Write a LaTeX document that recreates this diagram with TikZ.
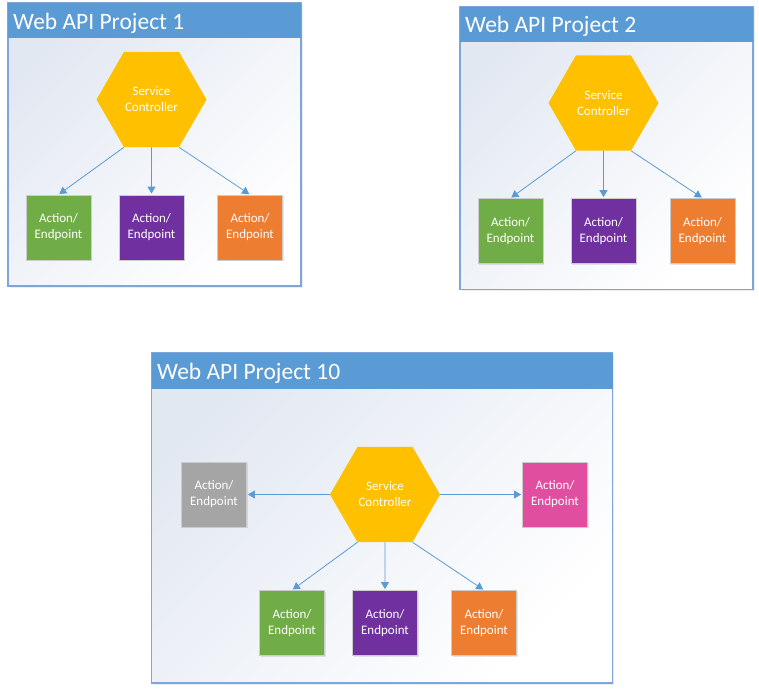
\documentclass[tikz,border=0pt]{standalone}
\usepackage{fontspec}
\setmainfont{Carlito}
\usetikzlibrary{shapes.geometric,arrows.meta,positioning,shadows}

\definecolor{titleblue}{HTML}{5B9BD5}
\definecolor{frameblue}{HTML}{7FA6D8}
\definecolor{bgblue}{HTML}{E2E8F2}
\definecolor{hexyellow}{HTML}{FFC000}
\definecolor{epgreen}{HTML}{70AD47}
\definecolor{eppurple}{HTML}{7030A0}
\definecolor{eporange}{HTML}{ED7D31}
\definecolor{epgray}{HTML}{A5A5A5}
\definecolor{eppink}{HTML}{E04F9F}

\tikzset{
	panel/.style={draw=frameblue,line width=1.2pt,top color=bgblue,bottom color=white,shading angle=45,
		drop shadow={opacity=0.15,shadow xshift=1.5pt,shadow yshift=-1.5pt}},
	titlebar/.style={fill=titleblue,draw=none},
	titletext/.style={anchor=base west,text=white,inner sep=0pt,font=\fontsize{23.5}{28}\selectfont},
	service/.style={regular polygon,regular polygon sides=6,minimum size=110pt,inner sep=0pt,
		fill=hexyellow,text=white,align=center,font=\fontsize{13}{16}\selectfont},
	endpoint/.style={minimum size=65pt,inner sep=0pt,draw=black!20,line width=0.8pt,text=white,
		align=center,font=\fontsize{13}{16}\selectfont,
		drop shadow={opacity=0.2,shadow xshift=1pt,shadow yshift=-1pt}},
	call/.style={draw=titleblue,line width=0.8pt,-{Triangle[width=8pt,length=7pt]},shorten >=1pt}
}

\begin{document}
\begin{tikzpicture}[x=1pt,y=-1pt]
	\useasboundingbox[fill=white] (0,0) rectangle (759,691);

	% project 1
	\draw[panel] (8,3) rectangle (301,286);
	\fill[titlebar] (8,3) rectangle (301,38);
	\node[titletext] (title1) at (13,29) {Web API Project 1};
	\node[service] (sc1) at (151.5,99.5) {Service\\Controller};
	\node[endpoint,fill=epgreen] (ep1a) at (58.5,227.5) {Action/\\Endpoint};
	\node[endpoint,fill=eppurple] (ep1b) at (151.5,227.5) {Action/\\Endpoint};
	\node[endpoint,fill=eporange] (ep1c) at (250,227.5) {Action/\\Endpoint};
	\draw[call] (sc1.corner 4) -- (ep1a.north);
	\draw[call] (sc1.south) -- (ep1b.north);
	\draw[call] (sc1.corner 5) -- (ep1c.north);

	% project 2
	\draw[panel] (460,6.5) rectangle (753,289.5);
	\fill[titlebar] (460,6.5) rectangle (753,41.5);
	\node[titletext] (title2) at (465,32.5) {Web API Project 2};
	\node[service] (sc2) at (603.5,103) {Service\\Controller};
	\node[endpoint,fill=epgreen] (ep2a) at (510.5,231) {Action/\\Endpoint};
	\node[endpoint,fill=eppurple] (ep2b) at (603.5,231) {Action/\\Endpoint};
	\node[endpoint,fill=eporange] (ep2c) at (702.5,231) {Action/\\Endpoint};
	\draw[call] (sc2.corner 4) -- (ep2a.north);
	\draw[call] (sc2.south) -- (ep2b.north);
	\draw[call] (sc2.corner 5) -- (ep2c.north);

	% project 10
	\draw[panel] (151.5,353) rectangle (612.5,683);
	\fill[titlebar] (151.5,353) rectangle (612.5,389);
	\node[titletext] (title10) at (157,379) {Web API Project 10};
	\node[service] (sc10) at (385,494.5) {Service\\Controller};
	\node[endpoint,fill=epgray] (ep10a) at (214,494.5) {Action/\\Endpoint};
	\node[endpoint,fill=eppink] (ep10b) at (555,494.5) {Action/\\Endpoint};
	\node[endpoint,fill=epgreen] (ep10c) at (292,623) {Action/\\Endpoint};
	\node[endpoint,fill=eppurple] (ep10d) at (385,623) {Action/\\Endpoint};
	\node[endpoint,fill=eporange] (ep10e) at (484,623) {Action/\\Endpoint};
	\draw[call] (sc10.west) -- (ep10a.east);
	\draw[call] (sc10.east) -- (ep10b.west);
	\draw[call] (sc10.corner 4) -- (ep10c.north);
	\draw[call] (sc10.south) -- (ep10d.north);
	\draw[call] (sc10.corner 5) -- (ep10e.north);
\end{tikzpicture}
\end{document}
